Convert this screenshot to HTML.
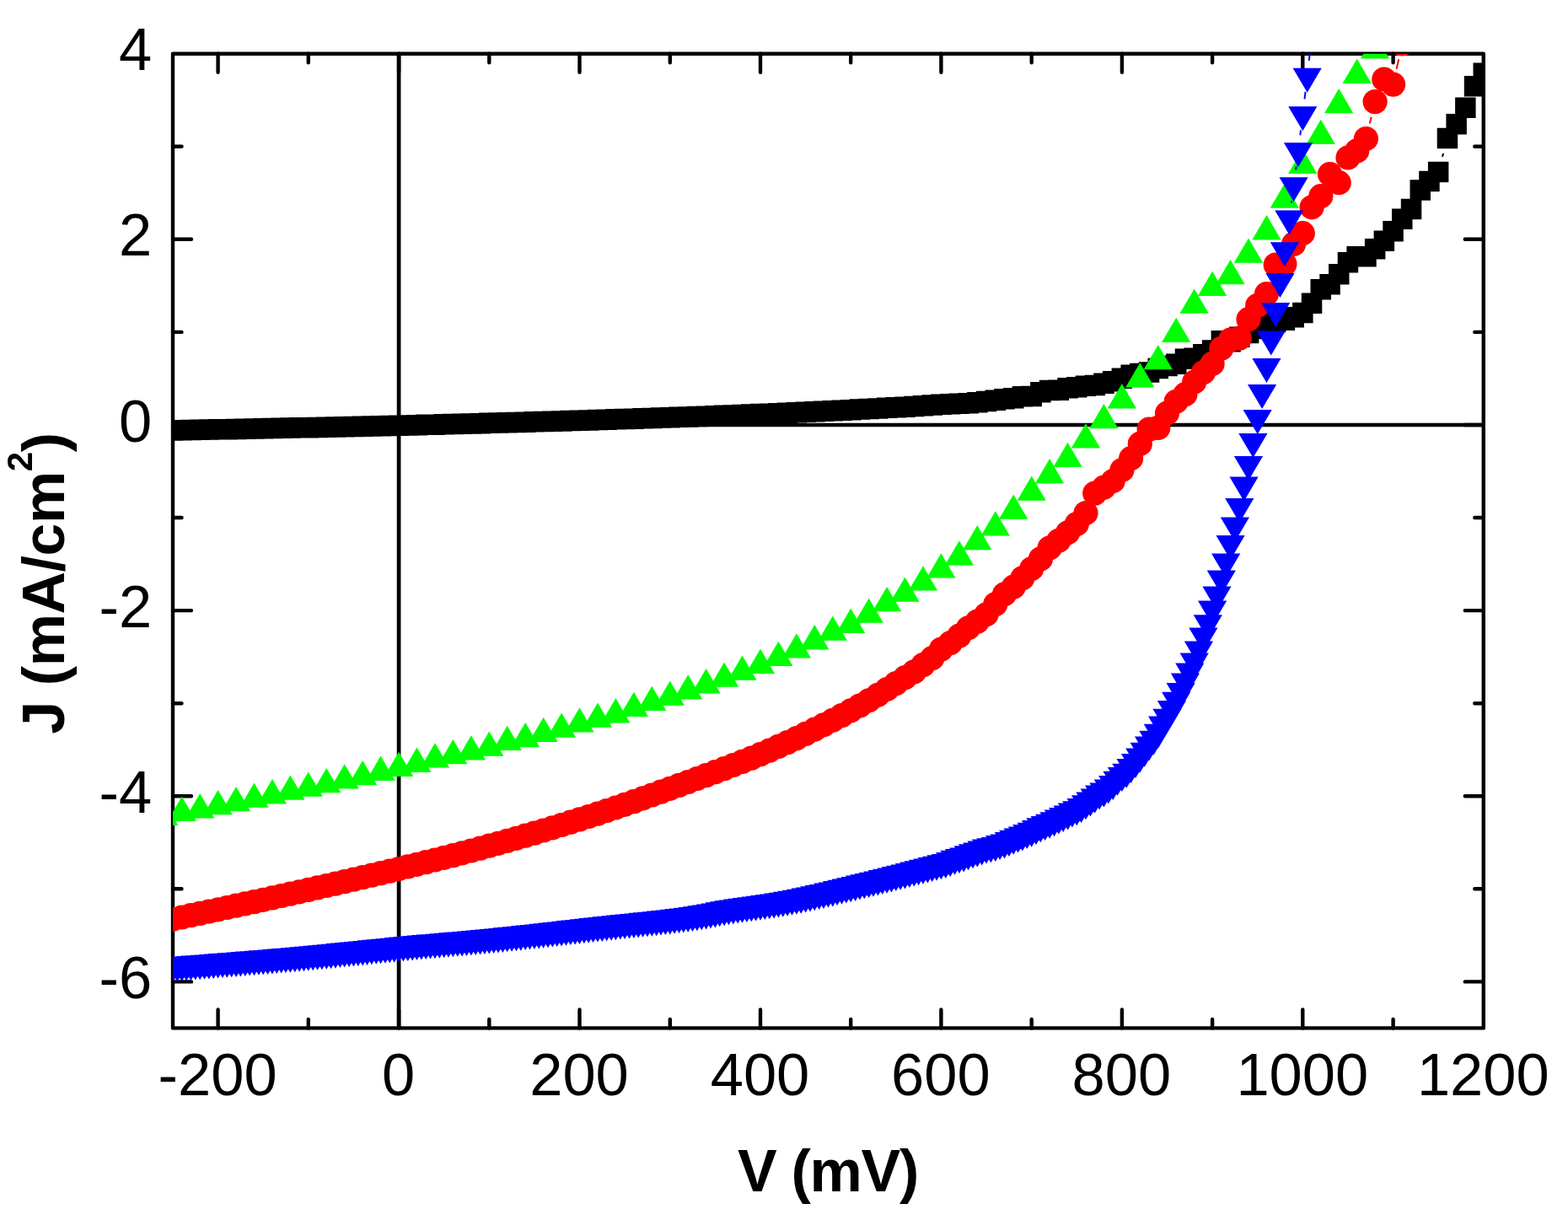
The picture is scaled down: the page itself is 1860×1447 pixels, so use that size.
<!DOCTYPE html>
<html lang="en"><head><meta charset="utf-8"><title>J-V curves</title>
<style>
html,body{margin:0;padding:0;background:#fff;}
body{width:1860px;height:1447px;overflow:hidden;}
svg{display:block;}
text{font-family:"Liberation Sans",sans-serif;fill:#000;}
.tl{font-size:70.5px;}
.ti{font-size:70px;font-weight:bold;}
</style></head>
<body>
<svg width="1860" height="1447" viewBox="0 0 1860 1447">
<rect x="0" y="0" width="1860" height="1447" fill="#fff"/>
<defs><clipPath id="pc"><rect x="205" y="63.7" width="1554.8" height="1155.7"/></clipPath></defs>
<g stroke="#000" stroke-width="4.7" fill="none">
<line x1="473.1" y1="63.7" x2="473.1" y2="1219.4"/>
<line x1="205" y1="504" x2="1759.8" y2="504"/>
</g>
<g stroke="#000" stroke-width="4.4" fill="none" stroke-linecap="round" stroke-linejoin="round">
<rect x="205" y="63.7" width="1554.8" height="1155.7"/>
<path d="M258.6 1219.4v-22M258.6 63.7v22M365.8 1219.4v-10.5M365.8 63.7v10.5M473.1 1219.4v-22M473.1 63.7v22M580.3 1219.4v-10.5M580.3 63.7v10.5M687.5 1219.4v-22M687.5 63.7v22M794.8 1219.4v-10.5M794.8 63.7v10.5M902 1219.4v-22M902 63.7v22M1009.2 1219.4v-10.5M1009.2 63.7v10.5M1116.4 1219.4v-22M1116.4 63.7v22M1223.7 1219.4v-10.5M1223.7 63.7v10.5M1330.9 1219.4v-22M1330.9 63.7v22M1438.1 1219.4v-10.5M1438.1 63.7v10.5M1545.3 1219.4v-22M1545.3 63.7v22M1652.6 1219.4v-10.5M1652.6 63.7v10.5M205 1164.4h22M1759.8 1164.4h-22M205 1054.3h10.5M1759.8 1054.3h-10.5M205 944.2h22M1759.8 944.2h-22M205 834.2h10.5M1759.8 834.2h-10.5M205 724.1h22M1759.8 724.1h-22M205 614h10.5M1759.8 614h-10.5M205 504h22M1759.8 504h-22M205 393.9h10.5M1759.8 393.9h-10.5M205 283.8h22M1759.8 283.8h-22M205 173.8h10.5M1759.8 173.8h-10.5"/>
</g>
<g clip-path="url(#pc)">
<path d="M1711 186L1712.1 181.9" fill="none" stroke="#000" stroke-width="2"/>
<path d="M192.8 498.2h24.5v24.5h-24.5zM203.5 498h24.5v24.5h-24.5zM214.2 497.8h24.5v24.5h-24.5zM224.9 497.6h24.5v24.5h-24.5zM235.6 497.3h24.5v24.5h-24.5zM246.4 497.1h24.5v24.5h-24.5zM257.1 496.9h24.5v24.5h-24.5zM267.8 496.7h24.5v24.5h-24.5zM278.5 496.5h24.5v24.5h-24.5zM289.3 496.2h24.5v24.5h-24.5zM300 496h24.5v24.5h-24.5zM310.7 495.8h24.5v24.5h-24.5zM321.4 495.6h24.5v24.5h-24.5zM332.1 495.3h24.5v24.5h-24.5zM342.9 495.1h24.5v24.5h-24.5zM353.6 494.9h24.5v24.5h-24.5zM364.3 494.7h24.5v24.5h-24.5zM375 494.4h24.5v24.5h-24.5zM385.8 494.2h24.5v24.5h-24.5zM396.5 494h24.5v24.5h-24.5zM407.2 493.7h24.5v24.5h-24.5zM417.9 493.5h24.5v24.5h-24.5zM428.7 493.2h24.5v24.5h-24.5zM439.4 493h24.5v24.5h-24.5zM450.1 492.7h24.5v24.5h-24.5zM460.8 492.4h24.5v24.5h-24.5zM471.5 492.2h24.5v24.5h-24.5zM482.3 491.9h24.5v24.5h-24.5zM493 491.6h24.5v24.5h-24.5zM503.7 491.4h24.5v24.5h-24.5zM514.4 491.1h24.5v24.5h-24.5zM525.2 490.8h24.5v24.5h-24.5zM535.9 490.5h24.5v24.5h-24.5zM546.6 490.2h24.5v24.5h-24.5zM557.3 489.9h24.5v24.5h-24.5zM568 489.6h24.5v24.5h-24.5zM578.8 489.3h24.5v24.5h-24.5zM589.5 489h24.5v24.5h-24.5zM600.2 488.7h24.5v24.5h-24.5zM610.9 488.4h24.5v24.5h-24.5zM621.7 488.1h24.5v24.5h-24.5zM632.4 487.8h24.5v24.5h-24.5zM643.1 487.5h24.5v24.5h-24.5zM653.8 487.2h24.5v24.5h-24.5zM664.6 486.8h24.5v24.5h-24.5zM675.3 486.5h24.5v24.5h-24.5zM686 486.2h24.5v24.5h-24.5zM696.7 485.8h24.5v24.5h-24.5zM707.4 485.5h24.5v24.5h-24.5zM718.2 485.1h24.5v24.5h-24.5zM728.9 484.8h24.5v24.5h-24.5zM739.6 484.4h24.5v24.5h-24.5zM750.3 484.1h24.5v24.5h-24.5zM761.1 483.7h24.5v24.5h-24.5zM771.8 483.3h24.5v24.5h-24.5zM782.5 483h24.5v24.5h-24.5zM793.2 482.6h24.5v24.5h-24.5zM803.9 482.2h24.5v24.5h-24.5zM814.7 481.8h24.5v24.5h-24.5zM825.4 481.4h24.5v24.5h-24.5zM836.1 481h24.5v24.5h-24.5zM846.8 480.6h24.5v24.5h-24.5zM857.6 480.2h24.5v24.5h-24.5zM868.3 479.7h24.5v24.5h-24.5zM879 479.3h24.5v24.5h-24.5zM889.7 478.8h24.5v24.5h-24.5zM900.5 478.4h24.5v24.5h-24.5zM911.2 477.9h24.5v24.5h-24.5zM921.9 477.4h24.5v24.5h-24.5zM932.6 476.9h24.5v24.5h-24.5zM943.3 476.4h24.5v24.5h-24.5zM954.1 475.9h24.5v24.5h-24.5zM964.8 475.4h24.5v24.5h-24.5zM975.5 474.9h24.5v24.5h-24.5zM986.2 474.4h24.5v24.5h-24.5zM997 473.9h24.5v24.5h-24.5zM1007.7 473.3h24.5v24.5h-24.5zM1018.4 472.8h24.5v24.5h-24.5zM1029.1 472.2h24.5v24.5h-24.5zM1039.8 471.6h24.5v24.5h-24.5zM1050.6 471h24.5v24.5h-24.5zM1061.3 470.4h24.5v24.5h-24.5zM1072 469.8h24.5v24.5h-24.5zM1082.7 469h24.5v24.5h-24.5zM1093.5 468.2h24.5v24.5h-24.5zM1104.2 467.6h24.5v24.5h-24.5zM1114.9 467.1h24.5v24.5h-24.5zM1125.6 466.6h24.5v24.5h-24.5zM1136.4 465.9h24.5v24.5h-24.5zM1147.1 464.9h24.5v24.5h-24.5zM1157.8 463.7h24.5v24.5h-24.5zM1168.5 462.4h24.5v24.5h-24.5zM1179.2 461.1h24.5v24.5h-24.5zM1190 459.9h24.5v24.5h-24.5zM1200.7 458.1h24.5v24.5h-24.5zM1211.4 457.8h24.5v24.5h-24.5zM1222.1 453.1h24.5v24.5h-24.5zM1232.9 450.8h24.5v24.5h-24.5zM1243.6 450.4h24.5v24.5h-24.5zM1254.3 447.9h24.5v24.5h-24.5zM1265 446.9h24.5v24.5h-24.5zM1275.7 445.6h24.5v24.5h-24.5zM1286.5 444.8h24.5v24.5h-24.5zM1297.2 442.6h24.5v24.5h-24.5zM1307.9 439.9h24.5v24.5h-24.5zM1318.6 436.6h24.5v24.5h-24.5zM1329.4 432.6h24.5v24.5h-24.5zM1340.1 430.8h24.5v24.5h-24.5zM1350.8 429.2h24.5v24.5h-24.5zM1361.5 424.8h24.5v24.5h-24.5zM1372.3 421.8h24.5v24.5h-24.5zM1383 419.4h24.5v24.5h-24.5zM1393.7 413.4h24.5v24.5h-24.5zM1404.4 412.4h24.5v24.5h-24.5zM1415.1 408.1h24.5v24.5h-24.5zM1425.9 403.2h24.5v24.5h-24.5zM1436.6 392.1h24.5v24.5h-24.5zM1447.3 393.1h24.5v24.5h-24.5zM1458 387.4h24.5v24.5h-24.5zM1468.8 382.8h24.5v24.5h-24.5zM1479.5 377.8h24.5v24.5h-24.5zM1490.2 372.8h24.5v24.5h-24.5zM1500.9 369.8h24.5v24.5h-24.5zM1511.6 367.6h24.5v24.5h-24.5zM1522.4 364.1h24.5v24.5h-24.5zM1533.1 358.8h24.5v24.5h-24.5zM1543.8 347.4h24.5v24.5h-24.5zM1554.5 330.9h24.5v24.5h-24.5zM1565.3 324.9h24.5v24.5h-24.5zM1576 313.1h24.5v24.5h-24.5zM1586.7 298.9h24.5v24.5h-24.5zM1597.4 292.1h24.5v24.5h-24.5zM1608.2 292.1h24.5v24.5h-24.5zM1618.9 283.1h24.5v24.5h-24.5zM1629.6 273.6h24.5v24.5h-24.5zM1640.3 262.1h24.5v24.5h-24.5zM1651 247.4h24.5v24.5h-24.5zM1661.8 235.8h24.5v24.5h-24.5zM1672.5 213.2h24.5v24.5h-24.5zM1683.2 202.8h24.5v24.5h-24.5zM1693.9 191.8h24.5v24.5h-24.5zM1704.7 151.7h24.5v24.5h-24.5zM1715.4 134.9h24.5v24.5h-24.5zM1726.1 115.5h24.5v24.5h-24.5zM1736.8 90h24.5v24.5h-24.5zM1747.5 74.5h24.5v24.5h-24.5z" fill="#000"/>
<path d="M1624.8 146.4L1626.7 138.7M1656.6 81.9L1659.2 70.2" fill="none" stroke="#f00" stroke-width="2"/>
<g fill="#f00">
<circle cx="205" cy="1090.3" r="14.6"/><circle cx="215.7" cy="1088" r="14.6"/><circle cx="226.4" cy="1085.7" r="14.6"/><circle cx="237.2" cy="1083.4" r="14.6"/><circle cx="247.9" cy="1081.1" r="14.6"/><circle cx="258.6" cy="1078.8" r="14.6"/><circle cx="269.3" cy="1076.5" r="14.6"/><circle cx="280.1" cy="1074.2" r="14.6"/><circle cx="290.8" cy="1071.9" r="14.6"/><circle cx="301.5" cy="1069.6" r="14.6"/><circle cx="312.2" cy="1067.3" r="14.6"/><circle cx="323" cy="1064.9" r="14.6"/><circle cx="333.7" cy="1062.5" r="14.6"/><circle cx="344.4" cy="1060.2" r="14.6"/><circle cx="355.1" cy="1057.8" r="14.6"/><circle cx="365.8" cy="1055.4" r="14.6"/><circle cx="376.6" cy="1052.9" r="14.6"/><circle cx="387.3" cy="1050.5" r="14.6"/><circle cx="398" cy="1048.1" r="14.6"/><circle cx="408.7" cy="1045.6" r="14.6"/><circle cx="419.5" cy="1043.2" r="14.6"/><circle cx="430.2" cy="1040.7" r="14.6"/><circle cx="440.9" cy="1038.2" r="14.6"/><circle cx="451.6" cy="1035.6" r="14.6"/><circle cx="462.3" cy="1033.1" r="14.6"/><circle cx="473.1" cy="1030.5" r="14.6"/><circle cx="483.8" cy="1027.9" r="14.6"/><circle cx="494.5" cy="1025.3" r="14.6"/><circle cx="505.2" cy="1022.6" r="14.6"/><circle cx="516" cy="1020" r="14.6"/><circle cx="526.7" cy="1017.3" r="14.6"/><circle cx="537.4" cy="1014.6" r="14.6"/><circle cx="548.1" cy="1011.8" r="14.6"/><circle cx="558.9" cy="1009" r="14.6"/><circle cx="569.6" cy="1006.1" r="14.6"/><circle cx="580.3" cy="1003.2" r="14.6"/><circle cx="591" cy="1000.3" r="14.6"/><circle cx="601.7" cy="997.3" r="14.6"/><circle cx="612.5" cy="994.3" r="14.6"/><circle cx="623.2" cy="991.2" r="14.6"/><circle cx="633.9" cy="988.1" r="14.6"/><circle cx="644.6" cy="985" r="14.6"/><circle cx="655.4" cy="981.8" r="14.6"/><circle cx="666.1" cy="978.5" r="14.6"/><circle cx="676.8" cy="975.2" r="14.6"/><circle cx="687.5" cy="971.9" r="14.6"/><circle cx="698.2" cy="968.5" r="14.6"/><circle cx="709" cy="965.1" r="14.6"/><circle cx="719.7" cy="961.5" r="14.6"/><circle cx="730.4" cy="958" r="14.6"/><circle cx="741.1" cy="954.3" r="14.6"/><circle cx="751.9" cy="950.6" r="14.6"/><circle cx="762.6" cy="946.8" r="14.6"/><circle cx="773.3" cy="943" r="14.6"/><circle cx="784" cy="939.2" r="14.6"/><circle cx="794.8" cy="935.3" r="14.6"/><circle cx="805.5" cy="931.4" r="14.6"/><circle cx="816.2" cy="927.5" r="14.6"/><circle cx="826.9" cy="923.5" r="14.6"/><circle cx="837.6" cy="919.6" r="14.6"/><circle cx="848.4" cy="915.7" r="14.6"/><circle cx="859.1" cy="911.6" r="14.6"/><circle cx="869.8" cy="907.5" r="14.6"/><circle cx="880.5" cy="903.4" r="14.6"/><circle cx="891.3" cy="899.1" r="14.6"/><circle cx="902" cy="894.7" r="14.6"/><circle cx="912.7" cy="890.1" r="14.6"/><circle cx="923.4" cy="885.4" r="14.6"/><circle cx="934.1" cy="880.6" r="14.6"/><circle cx="944.9" cy="875.6" r="14.6"/><circle cx="955.6" cy="870.4" r="14.6"/><circle cx="966.3" cy="865.2" r="14.6"/><circle cx="977" cy="859.8" r="14.6"/><circle cx="987.8" cy="854.3" r="14.6"/><circle cx="998.5" cy="848.6" r="14.6"/><circle cx="1009.2" cy="842.8" r="14.6"/><circle cx="1019.9" cy="836.9" r="14.6"/><circle cx="1030.7" cy="830.8" r="14.6"/><circle cx="1041.4" cy="824.3" r="14.6"/><circle cx="1052.1" cy="817.5" r="14.6"/><circle cx="1062.8" cy="810.6" r="14.6"/><circle cx="1073.5" cy="803.7" r="14.6"/><circle cx="1084.3" cy="796.9" r="14.6"/><circle cx="1095" cy="788.6" r="14.6"/><circle cx="1105.7" cy="780.7" r="14.6"/><circle cx="1116.4" cy="770.1" r="14.6"/><circle cx="1127.2" cy="762.7" r="14.6"/><circle cx="1137.9" cy="754.1" r="14.6"/><circle cx="1148.6" cy="744.8" r="14.6"/><circle cx="1159.3" cy="737.1" r="14.6"/><circle cx="1170" cy="728.8" r="14.6"/><circle cx="1180.8" cy="716.6" r="14.6"/><circle cx="1191.5" cy="704.8" r="14.6"/><circle cx="1202.2" cy="696.2" r="14.6"/><circle cx="1212.9" cy="685.6" r="14.6"/><circle cx="1223.7" cy="674.5" r="14.6"/><circle cx="1234.4" cy="662.9" r="14.6"/><circle cx="1245.1" cy="649.9" r="14.6"/><circle cx="1255.8" cy="641.3" r="14.6"/><circle cx="1266.6" cy="631.8" r="14.6"/><circle cx="1277.3" cy="621.4" r="14.6"/><circle cx="1288" cy="608.5" r="14.6"/><circle cx="1298.7" cy="585.1" r="14.6"/><circle cx="1309.4" cy="578.2" r="14.6"/><circle cx="1320.2" cy="570.5" r="14.6"/><circle cx="1330.9" cy="557.5" r="14.6"/><circle cx="1341.6" cy="543.7" r="14.6"/><circle cx="1352.3" cy="526.4" r="14.6"/><circle cx="1363.1" cy="509.1" r="14.6"/><circle cx="1373.8" cy="507.4" r="14.6"/><circle cx="1384.5" cy="490" r="14.6"/><circle cx="1395.2" cy="476.3" r="14.6"/><circle cx="1405.9" cy="467.7" r="14.6"/><circle cx="1416.7" cy="453" r="14.6"/><circle cx="1427.4" cy="441.8" r="14.6"/><circle cx="1438.1" cy="431.4" r="14.6"/><circle cx="1448.8" cy="413.3" r="14.6"/><circle cx="1459.6" cy="403" r="14.6"/><circle cx="1470.3" cy="401.2" r="14.6"/><circle cx="1481" cy="378.7" r="14.6"/><circle cx="1491.7" cy="362.3" r="14.6"/><circle cx="1502.5" cy="348.5" r="14.6"/><circle cx="1513.2" cy="314" r="14.6"/><circle cx="1523.9" cy="313" r="14.6"/><circle cx="1534.6" cy="289.5" r="14.6"/><circle cx="1545.3" cy="276.7" r="14.6"/><circle cx="1556.1" cy="245.8" r="14.6"/><circle cx="1566.8" cy="232.7" r="14.6"/><circle cx="1577.5" cy="206.5" r="14.6"/><circle cx="1588.2" cy="216.7" r="14.6"/><circle cx="1599" cy="187" r="14.6"/><circle cx="1609.7" cy="178.9" r="14.6"/><circle cx="1620.4" cy="164.5" r="14.6"/><circle cx="1631.1" cy="120.6" r="14.6"/><circle cx="1641.8" cy="94" r="14.6"/><circle cx="1652.6" cy="100.1" r="14.6"/><circle cx="1663.3" cy="52" r="14.6"/>
</g>
<path d="M194.3 949.7l17.1 29.3h-34.3zM215.7 944.7l17.1 29.3h-34.3zM237.2 941.1l17.1 29.3h-34.3zM258.6 937l17.1 29.3h-34.3zM280.1 933l17.1 29.3h-34.3zM301.5 928.4l17.1 29.3h-34.3zM323 924.1l17.1 29.3h-34.3zM344.4 919.5l17.1 29.3h-34.3zM365.8 915.5l17.1 29.3h-34.3zM387.3 910.9l17.1 29.3h-34.3zM408.7 906.3l17.1 29.3h-34.3zM430.2 902l17.1 29.3h-34.3zM451.6 896.6l17.1 29.3h-34.3zM473.1 891.8l17.1 29.3h-34.3zM494.5 886.6l17.1 29.3h-34.3zM516 881.2l17.1 29.3h-34.3zM537.4 876.9l17.1 29.3h-34.3zM558.9 872.3l17.1 29.3h-34.3zM580.3 867.5l17.1 29.3h-34.3zM601.7 860.8l17.1 29.3h-34.3zM623.2 857l17.1 29.3h-34.3zM644.6 850.8l17.1 29.3h-34.3zM666.1 845.4l17.1 29.3h-34.3zM687.5 839.2l17.1 29.3h-34.3zM709 833.5l17.1 29.3h-34.3zM730.4 828.1l17.1 29.3h-34.3zM751.9 820.8l17.1 29.3h-34.3zM773.3 813.8l17.1 29.3h-34.3zM794.8 807.4l17.1 29.3h-34.3zM816.2 800.3l17.1 29.3h-34.3zM837.6 793.1l17.1 29.3h-34.3zM859.1 785.5l17.1 29.3h-34.3zM880.5 777.4l17.1 29.3h-34.3zM902 769.6l17.1 29.3h-34.3zM923.4 760.7l17.1 29.3h-34.3zM944.9 751.3l17.1 29.3h-34.3zM966.3 741.1l17.1 29.3h-34.3zM987.8 730.5l17.1 29.3h-34.3zM1009.2 721.6l17.1 29.3h-34.3zM1030.7 709.5l17.1 29.3h-34.3zM1052.1 696l17.1 29.3h-34.3zM1073.5 684.4l17.1 29.3h-34.3zM1095 671.2l17.1 29.3h-34.3zM1116.4 656.2l17.1 29.3h-34.3zM1137.9 641.3l17.1 29.3h-34.3zM1159.3 623l17.1 29.3h-34.3zM1180.8 606.2l17.1 29.3h-34.3zM1202.2 586.5l17.1 29.3h-34.3zM1223.7 564.5l17.1 29.3h-34.3zM1245.1 544.1l17.1 29.3h-34.3zM1266.6 524.7l17.1 29.3h-34.3zM1288 502.3l17.1 29.3h-34.3zM1309.4 479l17.1 29.3h-34.3zM1330.9 455.1l17.1 29.3h-34.3zM1352.3 430.2l17.1 29.3h-34.3zM1373.8 409l17.1 29.3h-34.3zM1395.2 376.7l17.1 29.3h-34.3zM1416.7 342.5l17.1 29.3h-34.3zM1438.1 321.7l17.1 29.3h-34.3zM1459.6 307.9l17.1 29.3h-34.3zM1481 282.5l17.1 29.3h-34.3zM1502.5 255.1l17.1 29.3h-34.3zM1523.9 217.5l17.1 29.3h-34.3zM1545.3 176.6l17.1 29.3h-34.3zM1566.8 141.8l17.1 29.3h-34.3zM1588.2 105l17.1 29.3h-34.3zM1609.7 69.8l17.1 29.3h-34.3zM1631.1 40.1l17.1 29.3h-34.3z" fill="#0f0"/>
<path d="M1526.5 278.5L1526.6 277.5M1531.8 240.6L1532.1 238.3M1537 201.4L1537.6 197.3M1542.3 160.4L1543 154.4M1547.5 117.5L1548.5 108.8M1552.8 71.9L1554 61.2" fill="none" stroke="#00f" stroke-width="2"/>
<path d="M205 1164.8l-17.1 -29h34.2zM210.4 1164.3l-17.1 -29h34.2zM215.7 1163.9l-17.1 -29h34.2zM221.1 1163.5l-17.1 -29h34.2zM226.4 1163.1l-17.1 -29h34.2zM231.8 1162.6l-17.1 -29h34.2zM237.2 1162.2l-17.1 -29h34.2zM242.5 1161.8l-17.1 -29h34.2zM247.9 1161.4l-17.1 -29h34.2zM253.3 1161l-17.1 -29h34.2zM258.6 1160.5l-17.1 -29h34.2zM264 1160.1l-17.1 -29h34.2zM269.3 1159.7l-17.1 -29h34.2zM274.7 1159.3l-17.1 -29h34.2zM280.1 1158.9l-17.1 -29h34.2zM285.4 1158.5l-17.1 -29h34.2zM290.8 1158l-17.1 -29h34.2zM296.1 1157.6l-17.1 -29h34.2zM301.5 1157.2l-17.1 -29h34.2zM306.9 1156.8l-17.1 -29h34.2zM312.2 1156.3l-17.1 -29h34.2zM317.6 1155.9l-17.1 -29h34.2zM323 1155.5l-17.1 -29h34.2zM328.3 1155l-17.1 -29h34.2zM333.7 1154.6l-17.1 -29h34.2zM339 1154.1l-17.1 -29h34.2zM344.4 1153.7l-17.1 -29h34.2zM349.8 1153.2l-17.1 -29h34.2zM355.1 1152.7l-17.1 -29h34.2zM360.5 1152.2l-17.1 -29h34.2zM365.8 1151.7l-17.1 -29h34.2zM371.2 1151.2l-17.1 -29h34.2zM376.6 1150.7l-17.1 -29h34.2zM381.9 1150.2l-17.1 -29h34.2zM387.3 1149.7l-17.1 -29h34.2zM392.6 1149.2l-17.1 -29h34.2zM398 1148.7l-17.1 -29h34.2zM403.4 1148.1l-17.1 -29h34.2zM408.7 1147.6l-17.1 -29h34.2zM414.1 1147.1l-17.1 -29h34.2zM419.5 1146.5l-17.1 -29h34.2zM424.8 1146l-17.1 -29h34.2zM430.2 1145.4l-17.1 -29h34.2zM435.5 1144.9l-17.1 -29h34.2zM440.9 1144.3l-17.1 -29h34.2zM446.3 1143.8l-17.1 -29h34.2zM451.6 1143.3l-17.1 -29h34.2zM457 1142.7l-17.1 -29h34.2zM462.3 1142.2l-17.1 -29h34.2zM467.7 1141.7l-17.1 -29h34.2zM473.1 1141.1l-17.1 -29h34.2zM478.4 1140.6l-17.1 -29h34.2zM483.8 1140.1l-17.1 -29h34.2zM489.2 1139.6l-17.1 -29h34.2zM494.5 1139.1l-17.1 -29h34.2zM499.9 1138.6l-17.1 -29h34.2zM505.2 1138.1l-17.1 -29h34.2zM510.6 1137.6l-17.1 -29h34.2zM516 1137.2l-17.1 -29h34.2zM521.3 1136.7l-17.1 -29h34.2zM526.7 1136.2l-17.1 -29h34.2zM532 1135.8l-17.1 -29h34.2zM537.4 1135.3l-17.1 -29h34.2zM542.8 1134.8l-17.1 -29h34.2zM548.1 1134.4l-17.1 -29h34.2zM553.5 1133.9l-17.1 -29h34.2zM558.9 1133.4l-17.1 -29h34.2zM564.2 1132.9l-17.1 -29h34.2zM569.6 1132.4l-17.1 -29h34.2zM574.9 1131.9l-17.1 -29h34.2zM580.3 1131.4l-17.1 -29h34.2zM585.7 1130.9l-17.1 -29h34.2zM591 1130.4l-17.1 -29h34.2zM596.4 1129.9l-17.1 -29h34.2zM601.7 1129.3l-17.1 -29h34.2zM607.1 1128.8l-17.1 -29h34.2zM612.5 1128.2l-17.1 -29h34.2zM617.8 1127.7l-17.1 -29h34.2zM623.2 1127.1l-17.1 -29h34.2zM628.5 1126.5l-17.1 -29h34.2zM633.9 1125.9l-17.1 -29h34.2zM639.3 1125.4l-17.1 -29h34.2zM644.6 1124.8l-17.1 -29h34.2zM650 1124.2l-17.1 -29h34.2zM655.4 1123.6l-17.1 -29h34.2zM660.7 1123l-17.1 -29h34.2zM666.1 1122.4l-17.1 -29h34.2zM671.4 1121.7l-17.1 -29h34.2zM676.8 1121.1l-17.1 -29h34.2zM682.2 1120.5l-17.1 -29h34.2zM687.5 1119.9l-17.1 -29h34.2zM692.9 1119.3l-17.1 -29h34.2zM698.2 1118.7l-17.1 -29h34.2zM703.6 1118.1l-17.1 -29h34.2zM709 1117.5l-17.1 -29h34.2zM714.3 1116.9l-17.1 -29h34.2zM719.7 1116.3l-17.1 -29h34.2zM725.1 1115.7l-17.1 -29h34.2zM730.4 1115.2l-17.1 -29h34.2zM735.8 1114.6l-17.1 -29h34.2zM741.1 1114l-17.1 -29h34.2zM746.5 1113.5l-17.1 -29h34.2zM751.9 1112.9l-17.1 -29h34.2zM757.2 1112.4l-17.1 -29h34.2zM762.6 1111.8l-17.1 -29h34.2zM767.9 1111.3l-17.1 -29h34.2zM773.3 1110.7l-17.1 -29h34.2zM778.7 1110.2l-17.1 -29h34.2zM784 1109.6l-17.1 -29h34.2zM789.4 1109l-17.1 -29h34.2zM794.8 1108.4l-17.1 -29h34.2zM800.1 1107.7l-17.1 -29h34.2zM805.5 1107.1l-17.1 -29h34.2zM810.8 1106.4l-17.1 -29h34.2zM816.2 1105.7l-17.1 -29h34.2zM821.6 1105l-17.1 -29h34.2zM826.9 1104.2l-17.1 -29h34.2zM832.3 1103.3l-17.1 -29h34.2zM837.6 1102.4l-17.1 -29h34.2zM843 1101.4l-17.1 -29h34.2zM848.4 1100.4l-17.1 -29h34.2zM853.7 1099.3l-17.1 -29h34.2zM859.1 1098.3l-17.1 -29h34.2zM864.4 1097.3l-17.1 -29h34.2zM869.8 1096.4l-17.1 -29h34.2zM875.2 1095.6l-17.1 -29h34.2zM880.5 1094.8l-17.1 -29h34.2zM885.9 1094l-17.1 -29h34.2zM891.3 1093.2l-17.1 -29h34.2zM896.6 1092.5l-17.1 -29h34.2zM902 1091.7l-17.1 -29h34.2zM907.3 1091l-17.1 -29h34.2zM912.7 1090.2l-17.1 -29h34.2zM918.1 1089.4l-17.1 -29h34.2zM923.4 1088.6l-17.1 -29h34.2zM928.8 1087.7l-17.1 -29h34.2zM934.1 1086.7l-17.1 -29h34.2zM939.5 1085.7l-17.1 -29h34.2zM944.9 1084.7l-17.1 -29h34.2zM950.2 1083.7l-17.1 -29h34.2zM955.6 1082.6l-17.1 -29h34.2zM961 1081.4l-17.1 -29h34.2zM966.3 1080.3l-17.1 -29h34.2zM971.7 1079.1l-17.1 -29h34.2zM977 1077.9l-17.1 -29h34.2zM982.4 1076.6l-17.1 -29h34.2zM987.8 1075.4l-17.1 -29h34.2zM993.1 1074.1l-17.1 -29h34.2zM998.5 1072.8l-17.1 -29h34.2zM1003.8 1071.6l-17.1 -29h34.2zM1009.2 1070.3l-17.1 -29h34.2zM1014.6 1069l-17.1 -29h34.2zM1019.9 1067.6l-17.1 -29h34.2zM1025.3 1066.3l-17.1 -29h34.2zM1030.7 1065l-17.1 -29h34.2zM1036 1063.7l-17.1 -29h34.2zM1041.4 1062.4l-17.1 -29h34.2zM1046.7 1061.1l-17.1 -29h34.2zM1052.1 1059.8l-17.1 -29h34.2zM1057.5 1058.5l-17.1 -29h34.2zM1062.8 1057.1l-17.1 -29h34.2zM1068.2 1055.8l-17.1 -29h34.2zM1073.5 1054.4l-17.1 -29h34.2zM1078.9 1053l-17.1 -29h34.2zM1084.3 1051.6l-17.1 -29h34.2zM1089.6 1050.2l-17.1 -29h34.2zM1095 1048.8l-17.1 -29h34.2zM1100.4 1047.4l-17.1 -29h34.2zM1105.7 1046l-17.1 -29h34.2zM1111.1 1044.7l-17.1 -29h34.2zM1116.4 1043.3l-17.1 -29h34.2zM1121.8 1041.9l-17.1 -29h34.2zM1127.2 1040l-17.1 -29h34.2zM1132.5 1037.8l-17.1 -29h34.2zM1137.9 1036.1l-17.1 -29h34.2zM1143.2 1034.4l-17.1 -29h34.2zM1148.6 1032.2l-17.1 -29h34.2zM1154 1030.3l-17.1 -29h34.2zM1159.3 1028.4l-17.1 -29h34.2zM1164.7 1026.4l-17.1 -29h34.2zM1170 1024.5l-17.1 -29h34.2zM1175.4 1023.2l-17.1 -29h34.2zM1180.8 1021.9l-17.1 -29h34.2zM1186.1 1020l-17.1 -29h34.2zM1191.5 1018.4l-17.1 -29h34.2zM1196.9 1016.1l-17.1 -29h34.2zM1202.2 1013.8l-17.1 -29h34.2zM1207.6 1011.6l-17.1 -29h34.2zM1212.9 1009.4l-17.1 -29h34.2zM1218.3 1007.1l-17.1 -29h34.2zM1223.7 1004.7l-17.1 -29h34.2zM1229 1001.9l-17.1 -29h34.2zM1234.4 999.3l-17.1 -29h34.2zM1239.7 997l-17.1 -29h34.2zM1245.1 994.8l-17.1 -29h34.2zM1250.5 992.2l-17.1 -29h34.2zM1255.8 989.6l-17.1 -29h34.2zM1261.2 987.1l-17.1 -29h34.2zM1266.6 984.5l-17.1 -29h34.2zM1271.9 981.5l-17.1 -29h34.2zM1277.3 979.3l-17.1 -29h34.2zM1282.6 976.1l-17.1 -29h34.2zM1288 972.2l-17.1 -29h34.2zM1293.4 968.4l-17.1 -29h34.2zM1298.7 964.5l-17.1 -29h34.2zM1304.1 960.6l-17.1 -29h34.2zM1309.4 957.4l-17.1 -29h34.2zM1314.8 953.5l-17.1 -29h34.2zM1320.2 949l-17.1 -29h34.2zM1325.5 943.8l-17.1 -29h34.2zM1330.9 938.9l-17.1 -29h34.2zM1336.3 934.7l-17.1 -29h34.2zM1341.6 929l-17.1 -29h34.2zM1347 923l-17.1 -29h34.2zM1352.3 916.6l-17.1 -29h34.2zM1357.7 909.8l-17.1 -29h34.2zM1363.1 902.6l-17.1 -29h34.2zM1368.4 895.8l-17.1 -29h34.2zM1373.8 887.8l-17.1 -29h34.2zM1379.1 878.5l-17.1 -29h34.2zM1384.5 869.7l-17.1 -29h34.2zM1389.9 860.1l-17.1 -29h34.2zM1395.2 849.7l-17.1 -29h34.2zM1400.6 838.9l-17.1 -29h34.2zM1405.9 827.6l-17.1 -29h34.2zM1411.3 815.6l-17.1 -29h34.2zM1416.7 803.6l-17.1 -29h34.2zM1422 789.6l-17.1 -29h34.2zM1427.4 773.5l-17.1 -29h34.2zM1432.8 758.3l-17.1 -29h34.2zM1438.1 741.5l-17.1 -29h34.2zM1443.5 724.6l-17.1 -29h34.2zM1448.8 705.4l-17.1 -29h34.2zM1454.2 685.4l-17.1 -29h34.2zM1459.6 664.1l-17.1 -29h34.2zM1464.9 642.5l-17.1 -29h34.2zM1470.3 620l-17.1 -29h34.2zM1475.6 594.4l-17.1 -29h34.2zM1481 569.9l-17.1 -29h34.2zM1486.4 543.1l-17.1 -29h34.2zM1491.7 515l-17.1 -29h34.2zM1497.1 485l-17.1 -29h34.2zM1502.5 454l-17.1 -29h34.2zM1507.8 421.5l-17.1 -29h34.2zM1513.2 387.9l-17.1 -29h34.2zM1518.5 353l-17.1 -29h34.2zM1523.9 316.2l-17.1 -29h34.2zM1529.3 278.4l-17.1 -29h34.2zM1534.6 239.2l-17.1 -29h34.2zM1540 198.2l-17.1 -29h34.2zM1545.3 155.3l-17.1 -29h34.2zM1550.7 109.7l-17.1 -29h34.2zM1556.1 62l-17.1 -29h34.2z" fill="#00f"/>
</g>
<g class="tl" text-anchor="middle">
<text x="258.1" y="1298.5">-200</text>
<text x="472.6" y="1298.5">0</text>
<text x="687" y="1298.5">200</text>
<text x="901.5" y="1298.5">400</text>
<text x="1115.9" y="1298.5">600</text>
<text x="1330.4" y="1298.5">800</text>
<text x="1544.8" y="1298.5">1000</text>
<text x="1759.3" y="1298.5">1200</text>
</g>
<g class="tl" text-anchor="end">
<text x="180.1" y="1184">-6</text>
<text x="180.1" y="963.8">-4</text>
<text x="180.1" y="743.7">-2</text>
<text x="180.1" y="523.6">0</text>
<text x="180.1" y="303.4">2</text>
<text x="180.1" y="83.3">4</text>
</g>
<text class="ti" text-anchor="middle" letter-spacing="-1.3" x="982" y="1412.9">V (mV)</text>
<text class="ti" text-anchor="middle" letter-spacing="-0.45" transform="translate(76 692) rotate(-90)">J (mA/cm<tspan font-size="42px" dy="-37.7">2</tspan><tspan dy="37.7">)</tspan></text>
</svg>
</body></html>
